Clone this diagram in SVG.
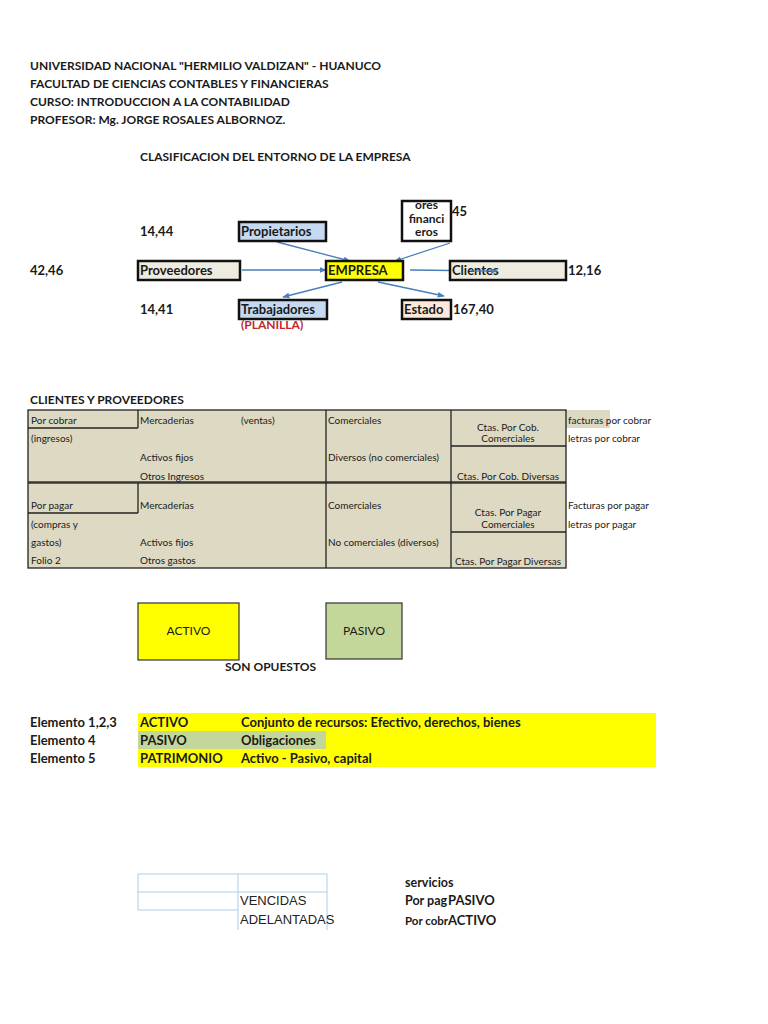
<svg xmlns="http://www.w3.org/2000/svg" width="768" height="1024" viewBox="0 0 768 1024">
<defs>
<style>
text{font-family:Lato,"Open Sans","Liberation Sans",sans-serif;fill:#1a1a1a}
.h{font-size:12px;font-weight:bold}
.d{font-size:13px;font-weight:bold}
.t{font-size:10px}
.tb{font-size:12px;font-weight:bold}
.e{font-size:13px;font-weight:bold}
.box{stroke:#111;stroke-width:2.5}
.cell{fill:none;stroke:#222;stroke-width:1.3}
.arr{stroke:#4a7ebb;stroke-width:1.3;fill:none;marker-end:url(#ah)}
.grid{stroke:#a9d0e8;stroke-width:1}
.ar{font-family:"Liberation Sans",Arial,sans-serif;font-size:13px;fill:#222}
</style>
<marker id="ah" viewBox="0 0 10 10" refX="9" refY="5" markerWidth="7" markerHeight="7" orient="auto" markerUnits="userSpaceOnUse">
<path d="M0,1 L10,5 L0,9 z" fill="#4a7ebb"/>
</marker>
<clipPath id="finclip"><rect x="402" y="201" width="49" height="40"/></clipPath>
</defs>
<rect width="768" height="1024" fill="#fff"/>

<g id="header">
<text class="h" x="30" y="70">UNIVERSIDAD NACIONAL "HERMILIO VALDIZAN" - HUANUCO</text>
<text class="h" x="30" y="88">FACULTAD DE CIENCIAS CONTABLES Y FINANCIERAS</text>
<text class="h" x="30" y="106">CURSO:  INTRODUCCION A LA CONTABILIDAD</text>
<text class="h" x="30" y="124">PROFESOR: Mg. JORGE ROSALES ALBORNOZ.</text>
<text class="h" x="140" y="161">CLASIFICACION DEL ENTORNO DE LA EMPRESA</text>
</g>

<g id="connectors">
<line class="arr" x1="277" y1="242" x2="350" y2="261"/>
<line class="arr" x1="450" y1="243" x2="395" y2="261"/>
<line class="arr" x1="242" y1="270" x2="326" y2="270"/>
<line class="arr" x1="410" y1="270" x2="497" y2="271"/>
<line class="arr" x1="342" y1="282" x2="283" y2="297"/>
<line class="arr" x1="378" y1="282" x2="444" y2="296"/>
</g>

<g id="labels">
<text class="d" x="140" y="236">14,44</text>
<text class="d" x="30" y="275">42,46</text>
<text class="d" x="140" y="314">14,41</text>
<text class="d" x="452" y="216">45</text>
<text class="d" x="568" y="275">12,16</text>
<text class="d" x="453" y="314">167,40</text>
<text x="241" y="329" style="font-size:12px;font-weight:bold;fill:#c0282d">(PLANILLA)</text>
</g>

<g id="propietarios">
<rect class="box" x="239" y="222" width="87" height="19" fill="#c5d9f1"/>
<text class="d" x="241" y="236">Propietarios</text>
</g>
<g id="financieros">
<rect class="box" x="402" y="201" width="49" height="40" fill="#fff"/>
<g clip-path="url(#finclip)">
<text class="d" x="426.5" y="209" text-anchor="middle" style="font-size:12px">ores</text>
<text class="d" x="426.5" y="223" text-anchor="middle" style="font-size:12px">financi</text>
<text class="d" x="426.5" y="236" text-anchor="middle" style="font-size:12px">eros</text>
</g>
</g>
<g id="proveedores">
<rect class="box" x="138" y="261" width="102" height="19" fill="#eeece1"/>
<text class="d" x="140" y="275">Proveedores</text>
</g>
<g id="empresa">
<rect class="box" x="326" y="261" width="77" height="19" fill="#ffff00"/>
<text class="d" x="328" y="275">EMPRESA</text>
</g>
<g id="clientes">
<rect class="box" x="450" y="261" width="116" height="19" fill="#eeece1"/>
<text class="d" x="452" y="275">Clientes</text>
<line class="arr" x1="470" y1="271" x2="497" y2="271"/>
</g>
<g id="trabajadores">
<rect class="box" x="239" y="300" width="88" height="19" fill="#c5d9f1"/>
<text class="d" x="241" y="314">Trabajadores</text>
</g>
<g id="estado">
<rect class="box" x="402" y="300" width="49" height="19" fill="#fde9d9"/>
<text class="d" x="404" y="314">Estado</text>
</g>

<g id="tabla">
<text class="tb" x="30" y="404">CLIENTES Y PROVEEDORES</text>
<rect x="28" y="410" width="538" height="158" fill="#ddd9c3"/>
<rect x="566" y="410" width="44" height="18" fill="#ddd9c3"/>
<rect class="cell" x="28" y="410" width="538" height="72"/>
<rect class="cell" x="28" y="483" width="538" height="85"/>
<line class="cell" x1="28" y1="428" x2="138" y2="428"/>
<line class="cell" x1="138" y1="410" x2="138" y2="428"/>
<line class="cell" x1="28" y1="513" x2="138" y2="513"/>
<line class="cell" x1="138" y1="483" x2="138" y2="513"/>
<line class="cell" x1="326" y1="410" x2="326" y2="568"/>
<line class="cell" x1="451" y1="410" x2="451" y2="568"/>
<line class="cell" x1="451" y1="446" x2="566" y2="446"/>
<line class="cell" x1="451" y1="532" x2="566" y2="532"/>
<text class="t" x="31" y="424">Por cobrar</text>
<text class="t" x="140" y="424">Mercaderias</text>
<text class="t" x="241" y="424">(ventas)</text>
<text class="t" x="328" y="424">Comerciales</text>
<text class="t" x="508" y="431" text-anchor="middle">Ctas. Por Cob.</text>
<text class="t" x="508" y="442" text-anchor="middle">Comerciales</text>
<text class="t" x="568" y="424">facturas por cobrar</text>
<text class="t" x="31" y="442">(ingresos)</text>
<text class="t" x="568" y="442">letras por cobrar</text>
<text class="t" x="140" y="461">Activos fijos</text>
<text class="t" x="328" y="461">Diversos (no comerciales)</text>
<text class="t" x="140" y="480">Otros Ingresos</text>
<text class="t" x="508" y="480" text-anchor="middle">Ctas. Por Cob. Diversas</text>
<text class="t" x="31" y="509">Por pagar</text>
<text class="t" x="140" y="509">Mercaderías</text>
<text class="t" x="328" y="509">Comerciales</text>
<text class="t" x="508" y="516" text-anchor="middle">Ctas. Por Pagar</text>
<text class="t" x="508" y="528" text-anchor="middle">Comerciales</text>
<text class="t" x="568" y="509">Facturas por pagar</text>
<text class="t" x="568" y="528">letras por pagar</text>
<text class="t" x="31" y="528">(compras y</text>
<text class="t" x="31" y="546">gastos)</text>
<text class="t" x="140" y="546">Activos fijos</text>
<text class="t" x="328" y="546">No comerciales (diversos)</text>
<text class="t" x="31" y="564">Folio 2</text>
<text class="t" x="140" y="564">Otros gastos</text>
<text class="t" x="508" y="565" text-anchor="middle">Ctas. Por Pagar Diversas</text>
</g>

<g id="activo">
<rect x="138" y="603" width="101" height="57" fill="#ffff00" stroke="#333" stroke-width="1.2"/>
<text x="188.5" y="635" text-anchor="middle" style="font-size:12px">ACTIVO</text>
</g>
<g id="pasivo">
<rect x="326" y="603" width="76" height="56" fill="#c4d79b" stroke="#333" stroke-width="1.2"/>
<text x="364" y="635" text-anchor="middle" style="font-size:12px">PASIVO</text>
</g>
<text class="tb" x="225" y="671">SON OPUESTOS</text>

<g id="elementos">
<rect x="138" y="713" width="518" height="54" fill="#ffff00"/>
<rect x="138" y="731" width="188" height="18" fill="#c4d79b"/>
<text class="e" x="30" y="727">Elemento 1,2,3</text>
<text class="e" x="140" y="727">ACTIVO</text>
<text class="e" x="241" y="727">Conjunto de recursos: Efectivo, derechos, bienes</text>
<text class="e" x="30" y="745">Elemento 4</text>
<text class="e" x="140" y="745">PASIVO</text>
<text class="e" x="241" y="745">Obligaciones</text>
<text class="e" x="30" y="763">Elemento 5</text>
<text class="e" x="140" y="763">PATRIMONIO</text>
<text class="e" x="241" y="763">Activo - Pasivo,  capital</text>
</g>

<g id="inferior">
<line class="grid" x1="138" y1="874" x2="327" y2="874"/>
<line class="grid" x1="138" y1="892" x2="327" y2="892"/>
<line class="grid" x1="138" y1="910" x2="238" y2="910"/>
<line class="grid" x1="138" y1="874" x2="138" y2="910"/>
<line class="grid" x1="238" y1="874" x2="238" y2="930"/>
<line class="grid" x1="327" y1="874" x2="327" y2="930"/>
<text class="ar" x="240" y="905">VENCIDAS</text>
<text class="ar" x="240" y="924">ADELANTADAS</text>
<text class="tb" x="405" y="887" style="font-size:12.5px">servicios</text>
<text class="tb" x="405" y="905" style="font-size:12.5px">Por pag</text>
<text class="tb" x="448" y="905" style="font-size:13px">PASIVO</text>
<text class="tb" x="405" y="925" style="font-size:11.5px">Por cobr</text>
<text class="tb" x="448" y="925" style="font-size:13px">ACTIVO</text>
</g>
</svg>
